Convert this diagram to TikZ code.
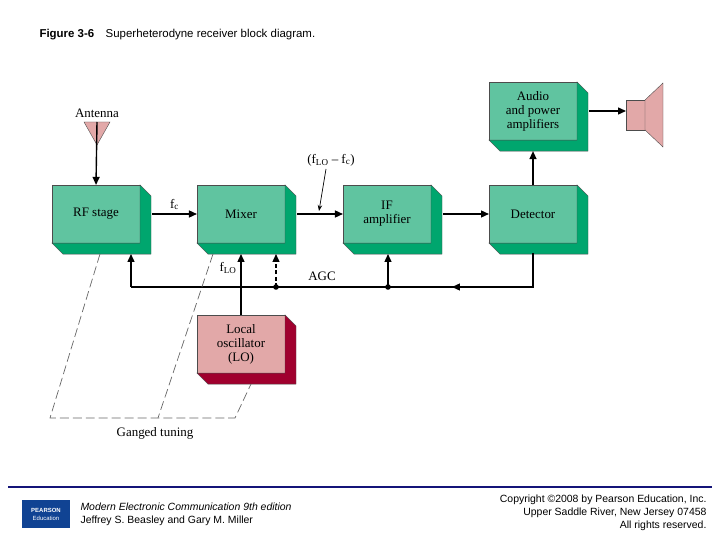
\documentclass[tikz,border=0pt]{standalone}
\usepackage{fontspec}
\setmainfont{Liberation Serif}
\newfontfamily\sansf{Liberation Sans}
\usetikzlibrary{calc,arrows.meta,positioning}
\definecolor{boxgreen}{RGB}{96,196,160}
\definecolor{sidegreen}{RGB}{0,166,110}
\definecolor{boxpink}{RGB}{226,168,168}
\definecolor{sidered}{RGB}{160,0,46}
\definecolor{navy}{RGB}{20,20,120}
\tikzset{block/.style={draw=black!70, fill=boxgreen, minimum width=88, minimum height=58, align=center, font=\fontsize{13}{14}\selectfont},
	lbl/.style={font=\fontsize{13}{14}\selectfont},
	sig/.style={line width=1.4pt, -{Triangle[length=8pt,width=7pt]}},
	gang/.style={dash pattern=on 9pt off 4pt, draw=black!60, line width=0.7pt}}
\begin{document}
\begin{tikzpicture}[x=1bp,y=-1bp]
	\useasboundingbox (0,0) rectangle (720,540);
	% Default action for each node
	\node[anchor=west, font=\sansf\fontsize{11.5}{13}\selectfont] (title) at (36,35) {\textbf{Figure 3-6}\quad Superheterodyne receiver block diagram.};

	\node[block] (rf) at (96,214) {RF stage};
	\node[block] (mixer) at (241,214) {Mixer};
	\node[block] (ifamp) at (387,214) {IF\\amplifier};
	\node[block] (det) at (533,214) {Detector};
	\node[block] (audio) at (533,111) {Audio\\and power\\amplifiers};
	\node[block, fill=boxpink] (lo) at (241,344) {Local\\oscillator\\(LO)};

	% Sides of the blocks
	\foreach \b in {rf,mixer,ifamp,det,audio}
		\filldraw[draw=black!70, fill=sidegreen] (\b.north east) -- ++(11,11) -- ($(\b.south east)+(11,11)$) -- ($(\b.south west)+(11,11)$) -- (\b.south west) -- (\b.south east) -- cycle;
	\filldraw[draw=black!70, fill=sidered] (lo.north east) -- ++(11,11) -- ($(lo.south east)+(11,11)$) -- ($(lo.south west)+(11,11)$) -- (lo.south west) -- (lo.south east) -- cycle;

	% Antenna
	\node[lbl] (ant) at (97,113) {Antenna};
	\filldraw[draw=black!70, fill=boxpink] (84,122) -- (110,122) -- (97,145) -- cycle;
	\coordinate (anttop) at (97,122);
	\draw[sig] (anttop) -- (rf.north);

	% Signal path
	\coordinate (rfout) at (152,214);
	\coordinate (mixout) at (297,214);
	\coordinate (ifout) at (443,214);
	\draw[sig] (rfout) -- node[above, lbl] {f\textsubscript{c}} (mixer.west);
	\draw[sig] (mixout) -- (ifamp.west);
	\draw[sig] (ifout) -- (det.west);
	\draw[sig] (det.north) -- ($(audio.south)+(0,11)$);
	\node[lbl] (diff) at (331,160) {(f\textsubscript{LO} -- f\textsubscript{c})};
	\draw[-{Stealth[length=6pt]}, line width=0.7pt] (326,169) -- (319,211);

	% Speaker
	\coordinate (audioout) at (589,111);
	\filldraw[draw=black!70, fill=boxpink] (626,100) rectangle (645,130);
	\filldraw[draw=black!70, fill=boxpink] (645,100) -- (663,83) -- (663,147) -- (645,130) -- cycle;
	\draw[sig] (audioout) -- (626,111);

	% AGC loop
	\coordinate (detbot) at (533,253);
	\coordinate (agcright) at (533,287);
	\coordinate (agcleft) at (131,287);
	\coordinate (agcif) at (388,287);
	\coordinate (agcmix) at (276,287);
	\draw[line width=1.4pt] (detbot) -- (agcright) -- (agcleft);
	\draw[sig] (agcleft) -- (131,254);
	\draw[sig] (500,287) -- (452,287);
	\draw[sig] (agcif) -- (388,254);
	\draw[sig, dash pattern=on 4pt off 2.5pt] (agcmix) -- (276,254);
	\fill (agcif) circle (2.8);
	\fill (agcmix) circle (2.8);
	\node[lbl] (agc) at (322,276) {AGC};

	% LO output
	\draw[sig] (lo.north) -- (241,254);
	\node[lbl] (flo) at (228,268) {f\textsubscript{LO}};

	% Ganged tuning
	\draw[gang] (100,254) -- (50,418) -- (235,418) -- (251,384);
	\draw[gang] (213,254) -- (158,418);
	\node[lbl] (ganged) at (155,433) {Ganged tuning};

	% Footer
	\draw[navy, line width=2.2pt] (8,487) -- (712,487);
	\node[fill=navy!80!cyan, text=white, minimum width=48, minimum height=28, inner sep=0, align=center, font=\sansf\fontsize{6}{8}\selectfont] (logo) at (46,514) {\textbf{PEARSON}\\Education};
	\node[anchor=west, align=left, font=\sansf\fontsize{10.5}{13}\selectfont] (book) at (77,514) {\textit{Modern Electronic Communication 9th edition}\\Jeffrey S. Beasley and Gary M. Miller};
	\node[anchor=east, align=right, font=\sansf\fontsize{10.5}{13}\selectfont] (copy) at (710,513) {Copyright \textcopyright2008 by Pearson Education, Inc.\\Upper Saddle River, New Jersey 07458\\All rights reserved.};
\end{tikzpicture}
\end{document}
